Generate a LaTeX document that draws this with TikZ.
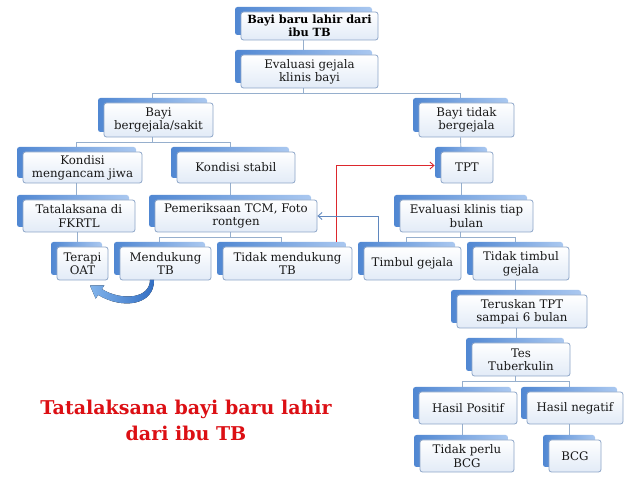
\documentclass[tikz,border=0pt]{standalone}
\usepackage{fontspec}
\setmainfont{DejaVu Serif}
\usetikzlibrary{shadows,backgrounds,arrows.meta,calc}
\definecolor{cardL}{RGB}{80,135,210}
\definecolor{cardR}{RGB}{170,200,240}
\definecolor{boxB}{RGB}{140,165,200}
\definecolor{boxF}{RGB}{226,235,247}
\definecolor{connC}{RGB}{150,175,205}
\definecolor{redA}{RGB}{220,40,45}
\definecolor{blueA}{RGB}{95,135,190}
\definecolor{titleR}{RGB}{220,15,20}
\definecolor{arrL}{RGB}{130,180,235}
\definecolor{arrR}{RGB}{50,110,195}
\begin{document}
\begin{tikzpicture}[x=1pt,y=-1pt,
 fbox/.style={draw=boxB, line width=0.8pt, rounded corners=2.5pt, top color=white, bottom color=boxF,
   align=center, inner sep=0pt, font=\fontsize{11.8}{13.3}\selectfont, text=black!90,
   general shadow={shadow xshift=-6pt, shadow yshift=5pt, left color=cardL, right color=cardR, draw=none, rounded corners=2.5pt}},
 boldbox/.style={fbox, font=\fontsize{11.3}{13}\selectfont\bfseries, text=black},
 conn/.style={draw=connC, line width=0.9pt},
 redarrow/.style={draw=redA, line width=0.9pt, -{Straight Barb[length=4pt,width=7pt]}},
 bluearrow/.style={draw=blueA, line width=0.9pt, -{Straight Barb[length=4pt,width=7pt]}},
 title/.style={text=titleR, font=\fontsize{19}{26}\selectfont\bfseries, align=center},
]
\useasboundingbox (0,0) rectangle (638,478);

% nodes
\node[boldbox, minimum width=137pt, minimum height=28pt] (top) at (309.5,26) {Bayi baru lahir dari\\ibu TB};
\node[fbox, minimum width=137pt, minimum height=33pt] (eval) at (309.5,71.5) {Evaluasi gejala\\klinis bayi};
\node[fbox, minimum width=109pt, minimum height=34pt] (bs) at (158.5,120) {Bayi\\bergejala/sakit};
\node[fbox, minimum width=95pt, minimum height=34pt] (btb) at (466.5,120) {Bayi tidak\\bergejala};
\node[fbox, minimum width=119pt, minimum height=31pt] (kmj) at (82.5,167.5) {Kondisi\\mengancam jiwa};
\node[fbox, minimum width=118pt, minimum height=31pt] (ks) at (236,167.5) {Kondisi stabil};
\node[fbox, minimum width=112pt, minimum height=32pt] (tfk) at (79,216) {Tatalaksana di\\FKRTL};
\node[fbox, minimum width=162pt, minimum height=32pt] (ptcm) at (236,216) {Pemeriksaan TCM, Foto\\rontgen};
\node[fbox, minimum width=51pt, minimum height=33pt] (toat) at (82.5,263.5) {Terapi\\OAT};
\node[fbox, minimum width=91pt, minimum height=33pt] (mtb) at (165.5,263.5) {Mendukung\\TB};
\node[fbox, minimum width=129pt, minimum height=33pt] (tmtb) at (287.5,263.5) {Tidak mendukung\\TB};
\node[fbox, minimum width=52pt, minimum height=31pt] (tpt) at (467,167.5) {TPT};
\node[fbox, minimum width=133pt, minimum height=32pt] (ekb) at (466.5,216) {Evaluasi klinis tiap\\bulan};
\node[fbox, minimum width=97pt, minimum height=33pt] (tg) at (412.5,263.5) {Timbul gejala};
\node[fbox, minimum width=96pt, minimum height=33pt] (ttg) at (521,263.5) {Tidak timbul\\gejala};
\node[fbox, minimum width=130pt, minimum height=33pt] (ter) at (522,311.5) {Teruskan TPT\\sampai 6 bulan};
\node[fbox, minimum width=98pt, minimum height=33pt] (tes) at (521,359.5) {Tes\\Tuberkulin};
\node[fbox, minimum width=98pt, minimum height=32pt] (hp) at (468,408) {Hasil Positif};
\node[fbox, minimum width=96pt, minimum height=32pt] (hn) at (575,408) {Hasil negatif};
\node[fbox, minimum width=94pt, minimum height=32pt] (tpb) at (467,456) {Tidak perlu\\BCG};
\node[fbox, minimum width=52pt, minimum height=32pt] (bcg) at (575,456) {BCG};

\node[title] (ttl) at (186,420) {Tatalaksana bayi baru lahir\\dari ibu TB};

% connectors
\begin{pgfonlayer}{background}
\fill[white] (0,0) rectangle (638,478);
\draw[conn] ([xshift=-6pt]top.south) -- ([xshift=-6pt]eval.north);
\draw[conn] ([xshift=-6pt]eval.south) -- ++(0,5) -| ([xshift=-6pt]bs.north);
\draw[conn] ([xshift=-6pt]eval.south) -- ++(0,5) -| ([xshift=-6pt]btb.north);
\draw[conn] ([xshift=-6pt]bs.south) -- ++(0,5) -| ([xshift=-6pt]kmj.north);
\draw[conn] ([xshift=-6pt]bs.south) -- ++(0,5) -| ([xshift=-6pt]ks.north);
\draw[conn] ([xshift=-6pt]kmj.south) -- ([xshift=-6pt]kmj.south |- tfk.north);
\draw[conn] ([xshift=-2pt]tfk.south) -- ([xshift=-2pt]tfk.south |- toat.north);
\draw[conn] ([xshift=-6pt]ks.south) -- ([xshift=-6pt]ks.south |- ptcm.north);
\draw[conn] ([xshift=-6pt]ptcm.south) -- ++(0,5) -| ([xshift=-6pt]mtb.north);
\draw[conn] ([xshift=-6pt]ptcm.south) -- ++(0,5) -| ([xshift=-6pt]tmtb.north);
\draw[conn] ([xshift=-6pt]btb.south) -- ([xshift=-6pt]tpt.north);
\draw[conn] ([xshift=-6pt]tpt.south) -- ([xshift=-6pt]tpt.south |- ekb.north);
\draw[conn] ([xshift=-6pt]ekb.south) -- ++(0,5) -| ([xshift=-6pt]tg.north);
\draw[conn] ([xshift=-6pt]ekb.south) -- ++(0,5) -| ([xshift=-6pt]ttg.north);
\draw[conn] ([xshift=-6pt]ttg.south) -- ([xshift=-6pt]ttg.south |- ter.north);
\draw[conn] ([xshift=-6pt]ter.south) -- ([xshift=-6pt]ter.south |- tes.north);
\draw[conn] ([xshift=-6pt]tes.south) -- ++(0,5) -| ([xshift=-6pt]hp.north);
\draw[conn] ([xshift=-6pt]tes.south) -- ++(0,5) -| ([xshift=-6pt]hn.north);
\draw[conn] ([xshift=-6pt]hp.south) -- ([xshift=-6pt]hp.south |- tpb.north);
\draw[conn] ([xshift=-6pt]hn.south) -- ([xshift=-6pt]hn.south |- bcg.north);
\end{pgfonlayer}

% feedback arrows
\coordinate (rs) at (336,242);
\draw[redarrow] (rs) |- ([xshift=-6pt,yshift=2pt]tpt.west);
\coordinate (bs0) at (378,242);
\draw[bluearrow] (bs0) |- (ptcm.east);

% curved arrow
\fill[left color=arrL, right color=arrR]
  (150,280) -- (154,280) .. controls (154.5,305) and (123,310) .. (98.1,294.9)
  -- (95.7,298.7) -- (90,285.5) -- (104.3,285.3) -- (101.9,289.1)
  .. controls (121,301) and (150,299) .. (150,280) -- cycle;
\end{tikzpicture}
\end{document}
